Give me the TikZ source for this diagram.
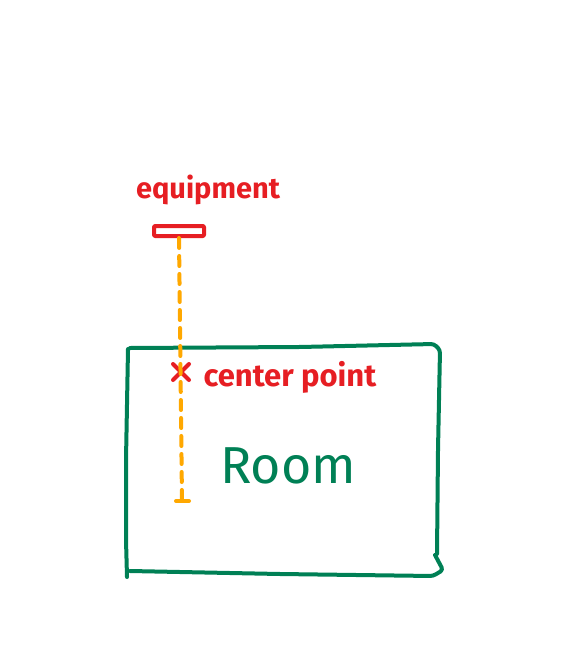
\documentclass[tikz,border=0pt]{standalone}
\usepackage{fontspec}
\setsansfont{Fira Sans}
\usepackage{tikz}
\usetikzlibrary{calc}
\definecolor{roomgreen}{RGB}{0,128,85}
\definecolor{penred}{RGB}{230,30,35}
\definecolor{penorange}{RGB}{255,168,0}

\begin{document}
\begin{tikzpicture}[x=1pt,y=-1pt,line cap=round,line join=round]
\useasboundingbox (0,0) rectangle (582,656);
% room outline
\draw[roomgreen,line width=4pt,rounded corners=3pt] (130,348) -- (300,347) -- (434,344) -- (440,350) -- (438,450) -- (437,554);
\draw[roomgreen,line width=4pt,rounded corners=3pt] (435,555) -- (443,570) -- (433,576) -- (280,574) -- (130,571);
\draw[roomgreen,line width=4pt] (128,349) -- (126,460) -- (126,540) -- (127,577);
\node[roomgreen,font=\sffamily\fontsize{52}{52}\selectfont] (room) at (288,466) {Room};
% equipment
\node[penred,font=\sffamily\bfseries\fontsize{29}{29}\selectfont] (equiplabel) at (208,190) {equipment};
\node[draw=penred,line width=4pt,rounded corners=1pt,minimum width=50pt,minimum height=10pt,inner sep=0pt] (equip) at (179,231) {};
% center point
\coordinate (cross) at (181,372);
\draw[penred,line width=4pt] ($(cross)+(-8,-8)$) -- ($(cross)+(8,8)$) ($(cross)+(-8,8)$) -- ($(cross)+(8,-8)$);
\node[penred,font=\sffamily\bfseries\fontsize{31}{31}\selectfont,anchor=west] (centerlabel) at (200,377) {center point};
% drop line
\coordinate (floor) at (182,501);
\draw[penorange,line width=4pt,dash pattern=on 10pt off 8pt] (equip.south) -- (floor);
\draw[penorange,line width=4pt] ($(floor)+(-6,0)$) -- ($(floor)+(7,0)$);
\end{tikzpicture}
\end{document}
